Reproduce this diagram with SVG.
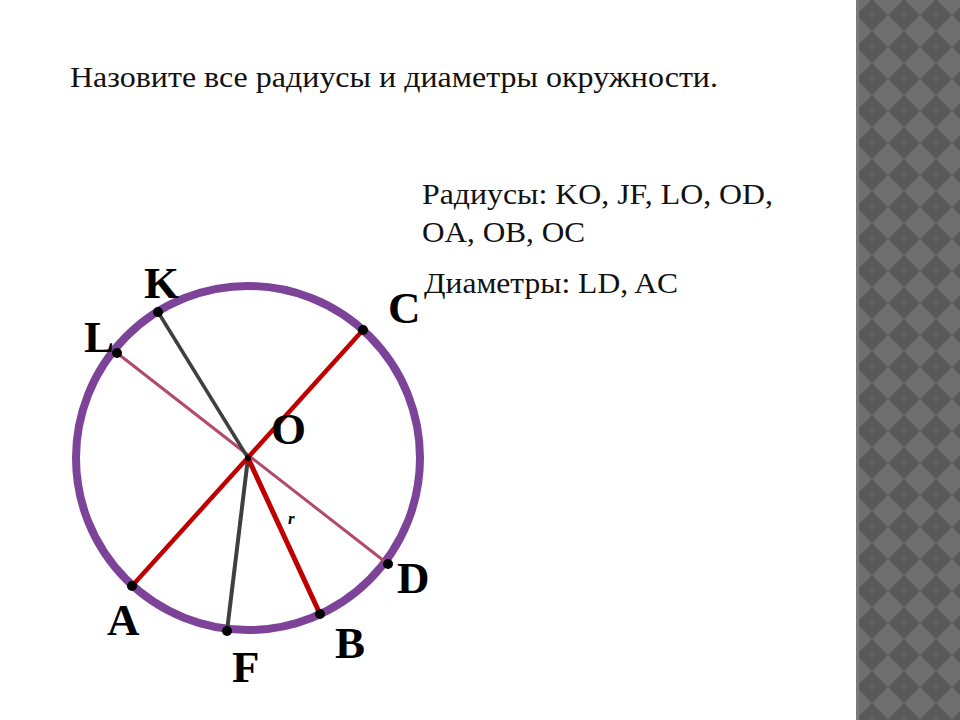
<svg xmlns="http://www.w3.org/2000/svg" width="960" height="720" viewBox="0 0 960 720">
<defs>
<pattern id="diam" patternUnits="userSpaceOnUse" x="856" y="-1" width="32" height="32">
<rect width="32" height="32" fill="#6f6f6f"/>
<polygon points="16,0 32,16 16,32 0,16" fill="#595959"/>
<path d="M16,12 V20 M12,16 H20" stroke="#666666" stroke-width="1"/>
</pattern>
<style>
.lbl{font-family:"Liberation Serif","Times New Roman",serif;font-weight:bold;font-size:45px;fill:#000}
.txt{font-family:"Liberation Serif","Times New Roman",serif;font-size:29px;fill:#111}
.dot{fill:#000}
</style>
</defs>
<rect width="960" height="720" fill="#ffffff"/>
<rect x="856" y="0" width="104" height="720" fill="url(#diam)"/>
<rect x="856" y="0" width="3" height="720" fill="#7a7a7a"/>
<g id="title"><text class="txt" x="70" y="87" textLength="648" lengthAdjust="spacingAndGlyphs">Назовите все радиусы и диаметры окружности.</text></g>
<g id="answers">
<text class="txt" x="422" y="204" textLength="351" lengthAdjust="spacingAndGlyphs">Радиусы: KO, JF, LO, OD,</text>
<text class="txt" x="422" y="242" textLength="163" lengthAdjust="spacingAndGlyphs">OA, OB, OC</text>
<text class="txt" x="424" y="293" textLength="254" lengthAdjust="spacingAndGlyphs">Диаметры: LD, AC</text>
</g>
<g id="circle"><circle cx="248" cy="458" r="172" fill="none" stroke="#7d4399" stroke-width="8"/></g>
<g id="connectors">
<line x1="117" y1="353" x2="388" y2="564" stroke="#b24a70" stroke-width="3"/>
<line x1="158" y1="312" x2="248" y2="458" stroke="#3f3f3f" stroke-width="3.5"/>
<line x1="248" y1="458" x2="227" y2="631" stroke="#3f3f3f" stroke-width="4"/>
<line x1="132" y1="586" x2="363" y2="330" stroke="#c00000" stroke-width="4.5"/>
<line x1="248" y1="458" x2="320" y2="614" stroke="#c00000" stroke-width="5"/>
</g>
<g id="points">
<circle class="dot" cx="158" cy="312" r="5"/>
<circle class="dot" cx="117" cy="353" r="5"/>
<circle class="dot" cx="363" cy="330" r="5"/>
<circle class="dot" cx="132" cy="586" r="5"/>
<circle class="dot" cx="227" cy="631" r="5"/>
<circle class="dot" cx="320" cy="614" r="5"/>
<circle class="dot" cx="388" cy="564" r="5"/>
<circle class="dot" cx="248" cy="458" r="3"/>
</g>
<g id="labels">
<text class="lbl" x="144" y="298" font-size="40">K</text>
<text class="lbl" x="84" y="352">L</text>
<text class="lbl" x="388" y="323">C</text>
<text class="lbl" x="271" y="444">O</text>
<text class="lbl" x="107" y="635">A</text>
<text class="lbl" x="232" y="682">F</text>
<text class="lbl" x="335" y="658">B</text>
<text class="lbl" x="397" y="593">D</text>
<text x="288" y="524" font-family="Liberation Serif, serif" font-style="italic" font-weight="bold" font-size="17" fill="#000">r</text>
</g>
</svg>
